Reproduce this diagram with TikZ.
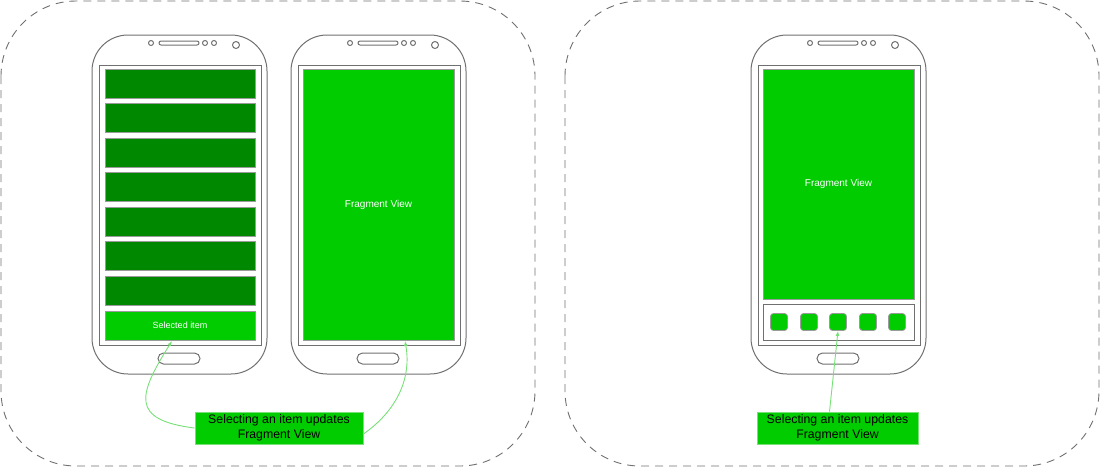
\documentclass[tikz,border=0pt]{standalone}
\usepackage{fontspec}
\setmainfont{Liberation Sans}
\usetikzlibrary{arrows.meta}
\definecolor{darkgrn}{HTML}{008800}
\definecolor{brightgrn}{HTML}{00CC00}
\definecolor{linkgrn}{HTML}{77E077}
\definecolor{bodygray}{HTML}{707070}
\tikzset{
    frame/.style={draw=bodygray, line width=0.9pt, dash pattern=on 8pt off 6pt, rounded corners=75pt},
    listitem/.style={draw=bodygray!70, line width=0.8pt, fill=darkgrn},
    selitem/.style={draw=bodygray!70, line width=0.8pt, fill=brightgrn, text=white, font=\fontsize{9}{10}\selectfont},
    fragment/.style={draw=bodygray!70, line width=0.8pt, fill=brightgrn, text=white, font=\fontsize{10}{12}\selectfont},
    callout/.style={draw=linkgrn, line width=0.8pt, fill=brightgrn, align=center, inner sep=0pt, font=\fontsize{12.3}{14.5}\selectfont},
    link/.style={draw=linkgrn, line width=0.9pt, -{Latex[length=5pt,width=4pt]}},
    phone/.pic={
        \begin{scope}[bodygray, line width=1pt]
        \draw (0,0) [rounded corners=36pt] rectangle (175,339);
        \draw (7,30) rectangle (169,310);
        \draw[rounded corners=2pt] (67,6) rectangle (107,10);
        \draw (59,8) circle (2.5) (113,8) circle (2.5) (122,8) circle (2.5);
        \draw (144,10) circle (3.5);
        \draw[rounded corners=5.5pt] (66,318) rectangle (108,329);
        \end{scope}
    }
}
\begin{document}
\begin{tikzpicture}[x=1pt,y=-1pt]
    \useasboundingbox (0,0) rectangle (1100,467);
    % containers
    \draw[frame] (1,1) rectangle (535,466);
    \draw[frame] (565,1) rectangle (1099,466);
    % phones
    \pic at (92,35) {phone};
    \pic at (291,35) {phone};
    \pic at (751,35) {phone};
    % list of items
    \foreach \i in {0,...,6}
        \node[listitem, minimum width=150pt, minimum height=29pt, inner sep=0pt] (item\i) at (180,{83.5+34.5*\i}) {};
    \node[selitem, minimum width=150pt, minimum height=29pt, inner sep=0pt] (selected) at (180,325.5) {Selected item};
    % fragment views
    \node[fragment, minimum width=151pt, minimum height=271pt, inner sep=0pt] (fragA) at (378.5,204.5) {Fragment View};
    \node[fragment, minimum width=151pt, minimum height=230pt, inner sep=0pt] (fragB) at (838.5,184) {Fragment View};
    % tab bar
    \node[draw=bodygray, line width=1pt, minimum width=151pt, minimum height=36pt, inner sep=0pt] (tabbar) at (838.5,322) {};
    \foreach \x [count=\n] in {779,809,838,868,897}
        \node[draw=bodygray!70, line width=0.8pt, fill=brightgrn, rounded corners=3pt, minimum size=17pt, inner sep=0pt] (tab\n) at (\x,322) {};
    % callouts
    \node[callout, minimum width=168pt, minimum height=32pt] (noteA) at (279,428) {Selecting an item updates\\Fragment View};
    \node[callout, minimum width=161pt, minimum height=32pt] (noteB) at (837.5,428) {Selecting an item updates\\Fragment View};
    % links
    \coordinate (hitA) at (172,341);
    \coordinate (hitB) at (405,341);
    \draw[link] (noteA.west) .. controls (130,420) and (138,395) .. (hitA);
    \draw[link] ([yshift=-6pt]noteA.east) .. controls (395,412) and (412,380) .. (hitB);
    \draw[link] ([xshift=-8pt]noteB.north) -- (tab3.south);
\end{tikzpicture}
\end{document}
